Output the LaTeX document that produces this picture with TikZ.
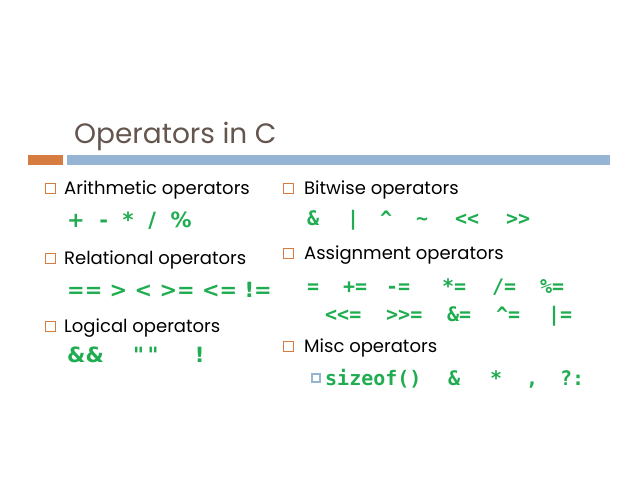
\documentclass[tikz,border=0pt]{standalone}
\usepackage{fontspec}
\setmainfont{Poppins}
\newfontfamily\codefont{DejaVu Sans Mono}
\newfontfamily\sanscode{DejaVu Sans}
\definecolor{ttl}{RGB}{100,85,78}
\definecolor{org}{RGB}{214,124,64}
\definecolor{blu}{RGB}{150,180,212}
\definecolor{grn}{RGB}{32,172,80}
\tikzset{
  lbltext/.style={anchor=base west,inner sep=0pt,font=\fontsize{18}{20}\selectfont},
  bulbox/.style={draw=org,line width=0.7pt,minimum size=10pt,inner sep=0pt},
  codesans/.style={anchor=base west,inner sep=0pt,text=grn,font=\fontsize{21}{22}\sanscode\bfseries},
  codemono/.style={anchor=base west,inner sep=0pt,text=grn,font=\fontsize{20}{22}\codefont\bfseries}
}
\begin{document}
\begin{tikzpicture}[x=1pt,y=-1pt]
\useasboundingbox[fill=white] (0,0) rectangle (638,493);
\node[anchor=base west,inner sep=0pt,text=ttl,font=\fontsize{28}{30}\selectfont] (title) at (74,143) {Operators in C};
\fill[org] (28,155) rectangle (63,165);
\fill[blu] (67,155) rectangle (610,165);
% left column
\node[bulbox] (b1) at (50,188) {};
\node[lbltext] (t1) at (64,194) {Arithmetic operators};
\node[codesans] (c1) at (67,227) {+\ \ -\ \ *\ \ /\ \ \%};
\node[bulbox] (b2) at (50,258) {};
\node[lbltext] (t2) at (64,264) {Relational operators};
\node[codesans] (c2) at (67,297) {==\ >\ <\ >=\ <=\ !=};
\node[bulbox] (b3) at (50,326) {};
\node[lbltext] (t3) at (64,332) {Logical operators};
\node[codesans] (c3) at (67,362) {\&\&\ \ \ \ "\,"\ \ \ \ \ !};
% right column
\node[bulbox] (b4) at (288,188) {};
\node[lbltext] (t4) at (304,194) {Bitwise operators};
\foreach \x/\s [count=\i] in {307/\&,347/|,380/\^{},416/\~{},455/<<,506/>>}
  \node[codemono] (r1\i) at (\x,225) {\s};
\node[bulbox] (b5) at (288,253) {};
\node[lbltext] (t5) at (304,259) {Assignment operators};
\foreach \x/\s [count=\i] in {307/=,343/+=,386/-=,442/*=,492/{/=},540/\%=}
  \node[codemono] (r2\i) at (\x,293) {\s};
\foreach \x/\s [count=\i] in {325/<<=,386/>>=,447/\&=,496/\^{}=,548/|=}
  \node[codemono] (r3\i) at (\x,321) {\s};
\node[bulbox] (b6) at (288,346) {};
\node[lbltext] (t6) at (304,352) {Misc operators};
\node[draw=blu,line width=2pt,minimum size=8pt,inner sep=0pt] (b7) at (316,378) {};
\foreach \x/\s [count=\i] in {325/sizeof(),448/\&,490/*,526/{,},560/?:}
  \node[codemono] (r4\i) at (\x,385) {\s};
\end{tikzpicture}
\end{document}
